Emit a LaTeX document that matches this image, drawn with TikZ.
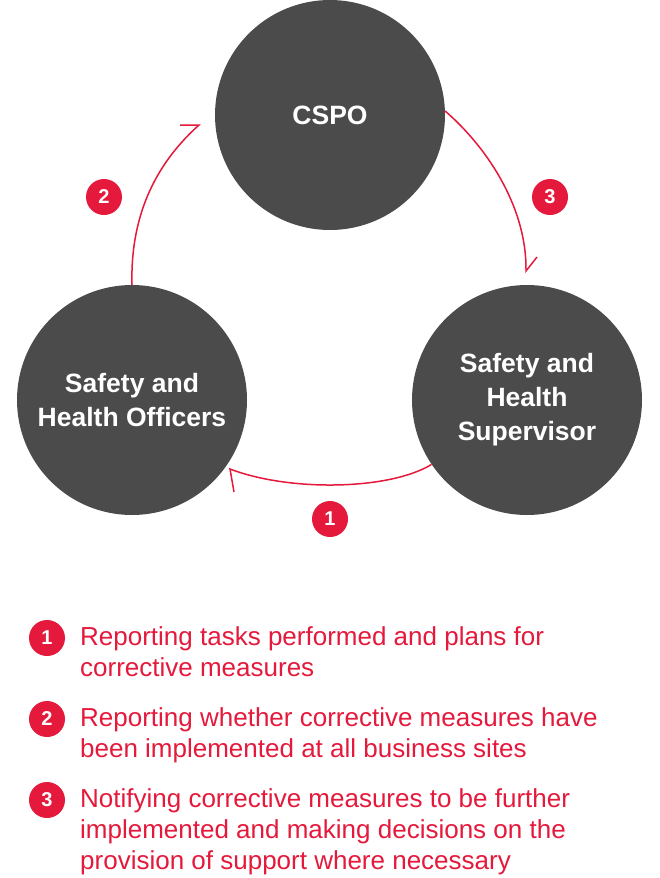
\documentclass[tikz,border=0pt]{standalone}
\usepackage{fontspec}
\setmainfont{Liberation Sans}
\definecolor{cred}{HTML}{E4193B}
\definecolor{cgray}{HTML}{4B4B4B}
\begin{document}
\begin{tikzpicture}[x=1pt,y=-1pt,
  role/.style={circle, fill=cgray, minimum size=230pt, inner sep=0pt, text=white, align=center, font=\fontsize{26.5}{34}\selectfont\bfseries},
  badge/.style={circle, fill=cred, minimum size=36pt, inner sep=0pt, text=white, font=\fontsize{20}{20}\selectfont\bfseries},
  flow/.style={draw=cred, line width=1.5pt},
  legend/.style={anchor=base west, inner sep=0pt, text=cred, align=left, font=\fontsize{26}{31}\selectfont}]
\useasboundingbox (0,0) rectangle (660,878);
% roles
\node[role] (cspo) at (330,115) {CSPO};
\node[role] (sho) at (132,400) {Safety and\\Health Officers};
\node[role] (shs) at (527,400) {Safety and\\Health\\Supervisor};
% connectors
\coordinate (t3) at (526,271); \coordinate (b3) at (537,257);
\draw[flow] (cspo.2) .. controls (490,150) and (527,210) .. (t3) -- (b3);
\coordinate (t2) at (199,125); \coordinate (b2) at (180,125);
\draw[flow] (sho.north) .. controls (130,210) and (160,160) .. (t2) -- (b2);
\coordinate (t1) at (230,469); \coordinate (b1) at (234,492);
\draw[flow] (shs.214) .. controls (390,490) and (290,492) .. (t1) -- (b1);
% badges
\node[badge] (n2) at (104,197) {2};
\node[badge] (n3) at (550,197) {3};
\node[badge] (n1) at (330,519) {1};
% legend
\node[badge] (k1) at (47,638) {1};
\node[badge] (k2) at (47,719) {2};
\node[badge] (k3) at (47,800) {3};
\node[legend] (l1) at (80,676) {Reporting tasks performed and plans for\\corrective measures};
\node[legend] (l2) at (80,757) {Reporting whether corrective measures have\\been implemented at all business sites};
\node[legend] (l3) at (80,869) {Notifying corrective measures to be further\\implemented and making decisions on the\\provision of support where necessary};
\end{tikzpicture}
\end{document}
